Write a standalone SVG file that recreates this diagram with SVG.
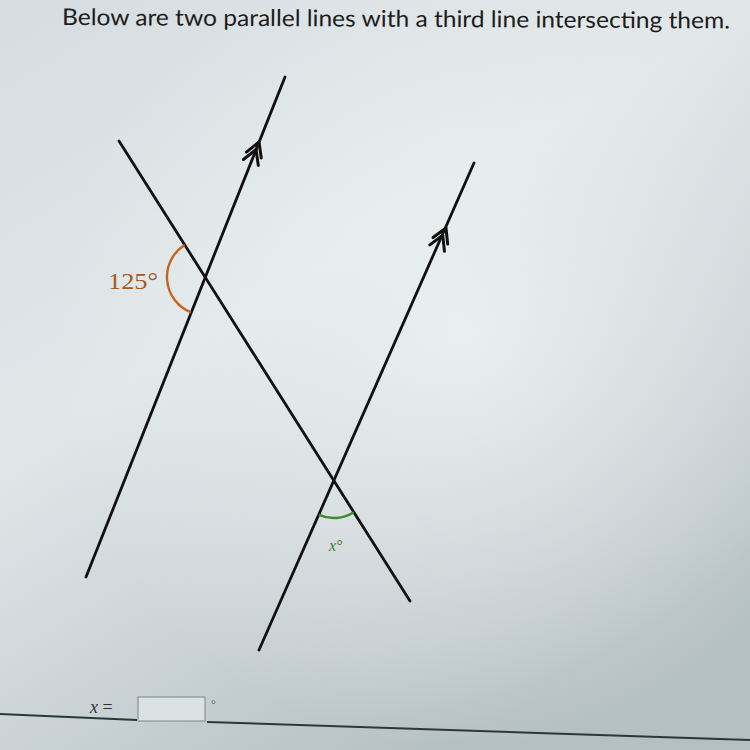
<svg xmlns="http://www.w3.org/2000/svg" width="750" height="750" viewBox="0 0 750 750">
<defs>
<linearGradient id="bg" x1="0" y1="0" x2="0.6" y2="1">
<stop offset="0" stop-color="#d6dde0"/>
<stop offset="0.45" stop-color="#e1e7e9"/>
<stop offset="1" stop-color="#b5c0c3"/>
</linearGradient>
<radialGradient id="hl" cx="0.62" cy="0.45" r="0.55">
<stop offset="0" stop-color="#eef2f3" stop-opacity="0.8"/>
<stop offset="1" stop-color="#eef2f3" stop-opacity="0"/>
</radialGradient>
<path id="chev" d="M-14,-8 L0,0 L-14,8 M-22,-8 L-8,0 L-22,8" fill="none" stroke="#111" stroke-width="3" stroke-linecap="round" stroke-linejoin="round"/>
</defs>
<style>
.ln{stroke:#111;stroke-width:2.8;fill:none;stroke-linecap:round}
.hdr{font-family:Lato,"Liberation Sans",sans-serif;font-size:23px;fill:#1c1c1c}
.ser{font-family:"Liberation Serif","DejaVu Serif",serif}
</style>
<rect width="750" height="750" fill="url(#bg)"/>
<rect width="750" height="750" fill="url(#hl)"/>
<g id="title">
<text class="hdr" x="62" y="25" textLength="668" lengthAdjust="spacingAndGlyphs" transform="rotate(0.3 62 25)">Below are two parallel lines with a third line intersecting them.</text>
</g>
<g id="lines">
<line id="parallel1" class="ln" x1="285" y1="77" x2="86" y2="577"/>
<line id="parallel2" class="ln" x1="474" y1="163" x2="259" y2="650"/>
<line id="transversal" class="ln" x1="119" y1="141" x2="410" y2="601"/>
<use href="#chev" transform="translate(259 142) rotate(-68.3)"/>
<use href="#chev" transform="translate(446 228) rotate(-66.2)"/>
</g>
<g id="angle125">
<path d="M184.7,244.9 A38,38 0 0 0 190.9,312.3" fill="none" stroke="#c8641e" stroke-width="2.4"/>
<text class="ser" x="108" y="289" font-size="24" fill="#a25a22" textLength="50" lengthAdjust="spacingAndGlyphs">125°</text>
</g>
<g id="anglex">
<path d="M319,514.9 A37,37 0 0 0 353.8,512.3" fill="none" stroke="#3f8a2a" stroke-width="2.4"/>
<text class="ser" x="329" y="551" font-size="16" font-style="italic" fill="#3f7a2a">x°</text>
</g>
<g id="answer">
<path d="M0,714 L137,720 M207,722 L750,740" stroke="#2a383a" stroke-width="2" fill="none"/>
<text class="ser" x="90" y="713" font-size="18" fill="#333"><tspan font-style="italic">x</tspan> =</text>
<rect x="138" y="697" width="67" height="24" fill="#dbe2e4" stroke="#8a9496" stroke-width="1.2"/>
<text class="ser" x="211" y="708" font-size="12" fill="#666">°</text>
</g>
</svg>
